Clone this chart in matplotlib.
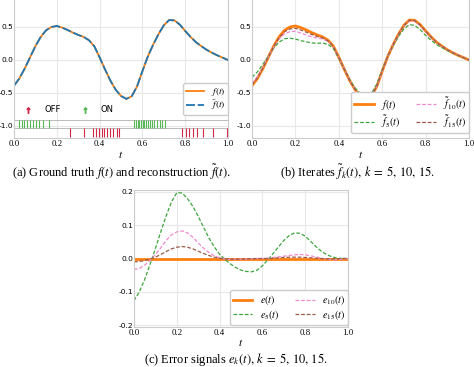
import numpy as np
import matplotlib.pyplot as plt
from matplotlib.lines import Line2D

plt.rcParams['mathtext.fontset'] = 'stix'
plt.rcParams['axes.unicode_minus'] = False

# sampling grid of the curves
t = np.linspace(0, 1, 41)

# ground truth f(t)
f = [-0.39, -0.28, -0.13, 0.04, 0.21, 0.35, 0.45, 0.50, 0.515, 0.49,
     0.455, 0.415, 0.38, 0.35, 0.30, 0.21, 0.04, -0.14, -0.31, -0.45,
     -0.545, -0.59, -0.55, -0.40, -0.17, 0.05, 0.23, 0.39, 0.525, 0.605,
     0.60, 0.535, 0.44, 0.35, 0.27, 0.21, 0.155, 0.11, 0.07, 0.035, 0.0]

# error signals
e5 = [-0.127, -0.100, -0.063, -0.018, 0.030, 0.080, 0.128, 0.170, 0.198, 0.197,
      0.180, 0.157, 0.127, 0.094, 0.062, 0.035, 0.013, -0.003, -0.016, -0.027,
      -0.035, -0.039, -0.040, -0.035, -0.022, -0.004, 0.015, 0.035, 0.054, 0.069,
      0.077, 0.076, 0.067, 0.052, 0.036, 0.022, 0.012, 0.005, 0.001, 0.0, 0.0]
e10 = [-0.033, -0.030, -0.020, -0.006, 0.012, 0.032, 0.054, 0.071, 0.080, 0.083,
       0.077, 0.064, 0.047, 0.031, 0.018, 0.008, 0.002, -0.002, -0.003, -0.003,
       -0.002, -0.002, -0.001, 0.0, 0.0, 0.001, 0.003, 0.005, 0.007, 0.009,
       0.011, 0.012, 0.011, 0.008, 0.005, 0.001, -0.002, -0.004, -0.004, -0.002, 0.0]
e15 = [-0.010, -0.009, -0.006, -0.002, 0.004, 0.012, 0.021, 0.029, 0.034, 0.036,
       0.034, 0.029, 0.022, 0.015, 0.009, 0.004, 0.001, -0.001, -0.002, -0.002,
       -0.002, -0.001, -0.001, 0.0, 0.0, 0.0, 0.001, 0.002, 0.003, 0.004,
       0.004, 0.004, 0.003, 0.002, 0.001, 0.0, -0.001, -0.001, -0.001, 0.0, 0.0]
e_final = [0.0] * len(t)   # reconstruction error is flat at zero

# spike times
on_spikes = [0.023, 0.036, 0.048, 0.062, 0.075, 0.087, 0.101, 0.117, 0.134, 0.164,
             0.562, 0.570, 0.578, 0.586, 0.593, 0.601, 0.609, 0.617, 0.625, 0.634,
             0.643, 0.654, 0.667, 0.681, 0.693, 0.706]
off_spikes = [0.262, 0.329, 0.368, 0.382, 0.396, 0.410, 0.422, 0.436, 0.449, 0.464,
              0.480, 0.492, 0.783, 0.805, 0.820, 0.836, 0.854, 0.883, 0.928, 0.994]

f = np.array(f)
f_rec = f - np.array(e_final)
f5 = f - np.array(e5)
f10 = f - np.array(e10)
f15 = f - np.array(e15)

C_OR = '#ff7f0e'
C_BL = '#1f77b4'
C_GR = '#3ea63e'
C_PK = '#f28bcf'
C_BR = '#9c5b46'
C_RED = '#d62748'
C_SPG = '#55b855'

W, H = 474, 367
fig = plt.figure(figsize=(W / 100, H / 100), dpi=100)


def box(x0, x1, y0, y1):
    return [x0 / W, 1 - y1 / H, (x1 - x0) / W, (y1 - y0) / H]


def style(ax, yticks, ylim):
    ax.set_xlim(0, 1)
    ax.set_ylim(ylim)
    xt = [0, 0.2, 0.4, 0.6, 0.8, 1.0]
    ax.set_xticks(xt)
    ax.set_xticklabels(['%.1f' % v for v in xt], fontfamily='Liberation Serif', fontsize=6.3)
    ax.set_yticks(yticks)
    ax.set_yticklabels(['%.1f' % v for v in yticks], fontfamily='DejaVu Sans', fontsize=5.4)
    ax.tick_params(axis='x', length=0, pad=1.6)
    ax.tick_params(axis='y', length=0, pad=0.4)
    ax.grid(color='#e8e8e8', lw=0.8)
    ax.set_axisbelow(True)
    for s in ax.spines.values():
        s.set_color('#cccccc')
        s.set_linewidth(0.8)
    ax.set_xlabel('$t$', fontsize=8, labelpad=0.2)


leg_kw = dict(fontsize=7.3, frameon=True, fancybox=True, edgecolor='#cccccc',
              framealpha=1.0, borderaxespad=0, handlelength=1.9,
              labelspacing=0.1, handletextpad=0.7, borderpad=0.3)

# (a) ground truth and reconstruction
ax = fig.add_axes(box(14, 228, -2, 138))
style(ax, [-1.0, -0.5, 0.0, 0.5], (-1.182, 0.939))
ax.plot(t, f, color=C_OR, lw=1.3, label='$f(t)$')
ax.plot(t, f_rec, color=C_BL, lw=1.3, ls=(0, (5, 1.5)), label=r'$\tilde{f}(t)$')
ax.axhline(-0.91, color='#bbbbbb', lw=0.7)
ax.axhline(-1.03, color='#bbbbbb', lw=0.7)
ax.vlines(on_spikes, -1.03, -0.91, color=C_SPG, lw=0.8)
ax.vlines(off_spikes, -1.17, -1.03, color=C_RED, lw=0.8)
leg1 = ax.legend(loc='lower right', bbox_to_anchor=(1.0, 0.164),
                 **{**leg_kw, 'fontsize': 6.8, 'labelspacing': 0.0})
ax.add_artist(leg1)
hs = [Line2D([], [], ls='none', marker=r'$\uparrow$', color=C_RED, ms=4),
      Line2D([], [], ls='none', marker=r'$\uparrow$', color=C_SPG, ms=4)]
ax.legend(hs, ['OFF', 'ON'], loc='center left', bbox_to_anchor=(0.032, 0.2),
          ncol=2, fontsize=6, frameon=False, borderaxespad=0, borderpad=0.4,
          handlelength=1.0, handletextpad=1.4, columnspacing=2.4)

# (b) iterates
ax = fig.add_axes(box(252, 469, -2, 138))
style(ax, [-1.0, -0.5, 0.0, 0.5], (-1.182, 0.939))
ax.plot(t, f, color=C_OR, lw=2.0, label='$f(t)$')
ax.plot(t, f5, color=C_GR, lw=0.9, ls=(0, (3, 1.5)), label=r'$\tilde{f}_5(t)$')
ax.plot(t, f10, color=C_PK, lw=0.9, ls=(0, (3, 1.5)), label=r'$\tilde{f}_{10}(t)$')
ax.plot(t, f15, color=C_BR, lw=0.9, ls=(0, (3, 1.5)), label=r'$\tilde{f}_{15}(t)$')
ax.legend(loc='lower right', bbox_to_anchor=(1.0, 0.036), ncol=2, columnspacing=1.6, **leg_kw)

# (c) error signals
ax = fig.add_axes(box(134, 348, 190, 327))
style(ax, [-0.2, -0.1, 0.0, 0.1, 0.2], (-0.206, 0.206))
ax.plot(t, e_final, color=C_OR, lw=2.0, label='$e(t)$')
ax.plot(t, e5, color=C_GR, lw=0.9, ls=(0, (3, 1.5)), label='$e_5(t)$')
ax.plot(t, e10, color=C_PK, lw=0.9, ls=(0, (3, 1.5)), label='$e_{10}(t)$')
ax.plot(t, e15, color=C_BR, lw=0.9, ls=(0, (3, 1.5)), label='$e_{15}(t)$')
ax.legend(loc='lower right', bbox_to_anchor=(1.0, 0.015), ncol=2, columnspacing=1.6, **leg_kw)

cap = dict(ha='center', va='center', fontfamily='Liberation Serif', fontsize=9)
fig.text(121 / W, 1 - 172 / H,
         r'(a) Ground truth $f(t)$ and reconstruction $\tilde{f}(t)$.', **cap)
fig.text(358 / W, 1 - 172 / H,
         r'(b) Iterates $\tilde{f}_k(t),\,k\;=\;5,\,10,\,15.$', **cap)
fig.text(236 / W, 1 - 359 / H,
         r'(c) Error signals $e_k(t),\,k\;=\;5,\,10,\,15.$', **cap)

fig.savefig('out.png', dpi=100)
